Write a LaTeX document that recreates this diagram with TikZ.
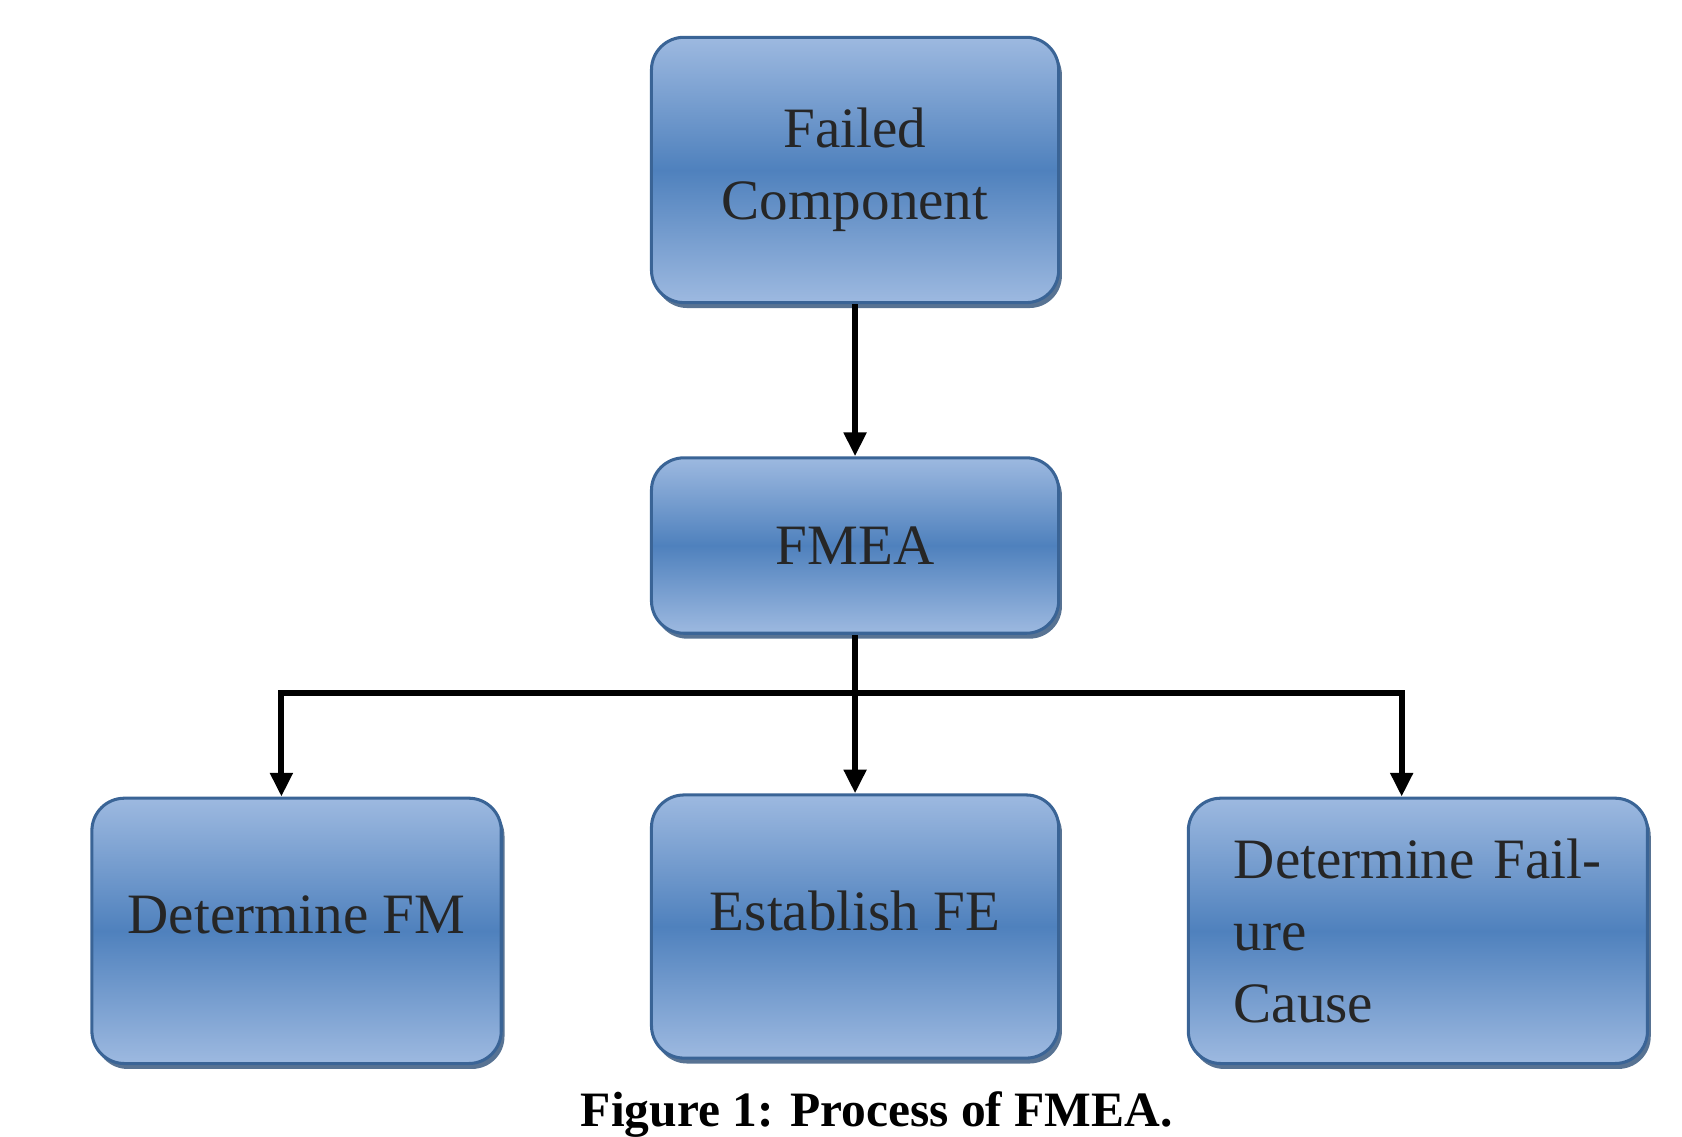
\documentclass[tikz,border=0pt]{standalone}
\usepackage{fontspec}
\setmainfont{Liberation Serif}
\usetikzlibrary{arrows.meta,shadows}
\definecolor{bl}{HTML}{4F81BD}
\definecolor{bll}{HTML}{9DB9E0}
\definecolor{bld}{HTML}{3A6496}
\begin{document}
\begin{tikzpicture}[x=0.01cm,y=-0.01cm,
  box/.style={draw=bld,line width=0.8pt,rounded corners=0.3cm,top color=bll,bottom color=bll,middle color=bl,
    drop shadow={shadow xshift=0.03cm,shadow yshift=-0.05cm,fill=bld!80!black,opacity=0.8},
    font=\fontsize{15}{19}\selectfont,text=black!85,align=center,inner sep=0pt},
  arr/.style={-{Triangle[length=0.22cm,width=0.2cm]},line width=1.6pt}]
\useasboundingbox (0,0) rectangle (1554,1050);
\node[box,minimum width=3.76cm,minimum height=2.45cm] (fc) at (790,157) {Failed\\Component};
\node[box,minimum width=3.76cm,minimum height=1.62cm] (fm) at (790,504) {FMEA};
\node[box,minimum width=3.78cm,minimum height=2.45cm] (d) at (274,860) {\raisebox{0.3cm}{Determine FM}};
\node[box,minimum width=3.76cm,minimum height=2.43cm] (e) at (790,856) {\raisebox{0.3cm}{Establish FE}};
\node[box,minimum width=4.24cm,minimum height=2.45cm,align=left,text width=3.4cm] (c) at (1310,860) {Determine Failure\\Cause};
\coordinate (j) at (790,640);
\draw[arr] (fc) -- (fm);
\draw[arr] (fm) -- (e);
\draw[arr] (j) -| (d.north -| 260,0);
\draw[arr] (j) -| (c.north -| 1295,0);
\node[font=\bfseries\fontsize{13}{16}\selectfont] (cap) at (810,1030) {Figure 1: Process of FMEA.};
\end{tikzpicture}
\end{document}
